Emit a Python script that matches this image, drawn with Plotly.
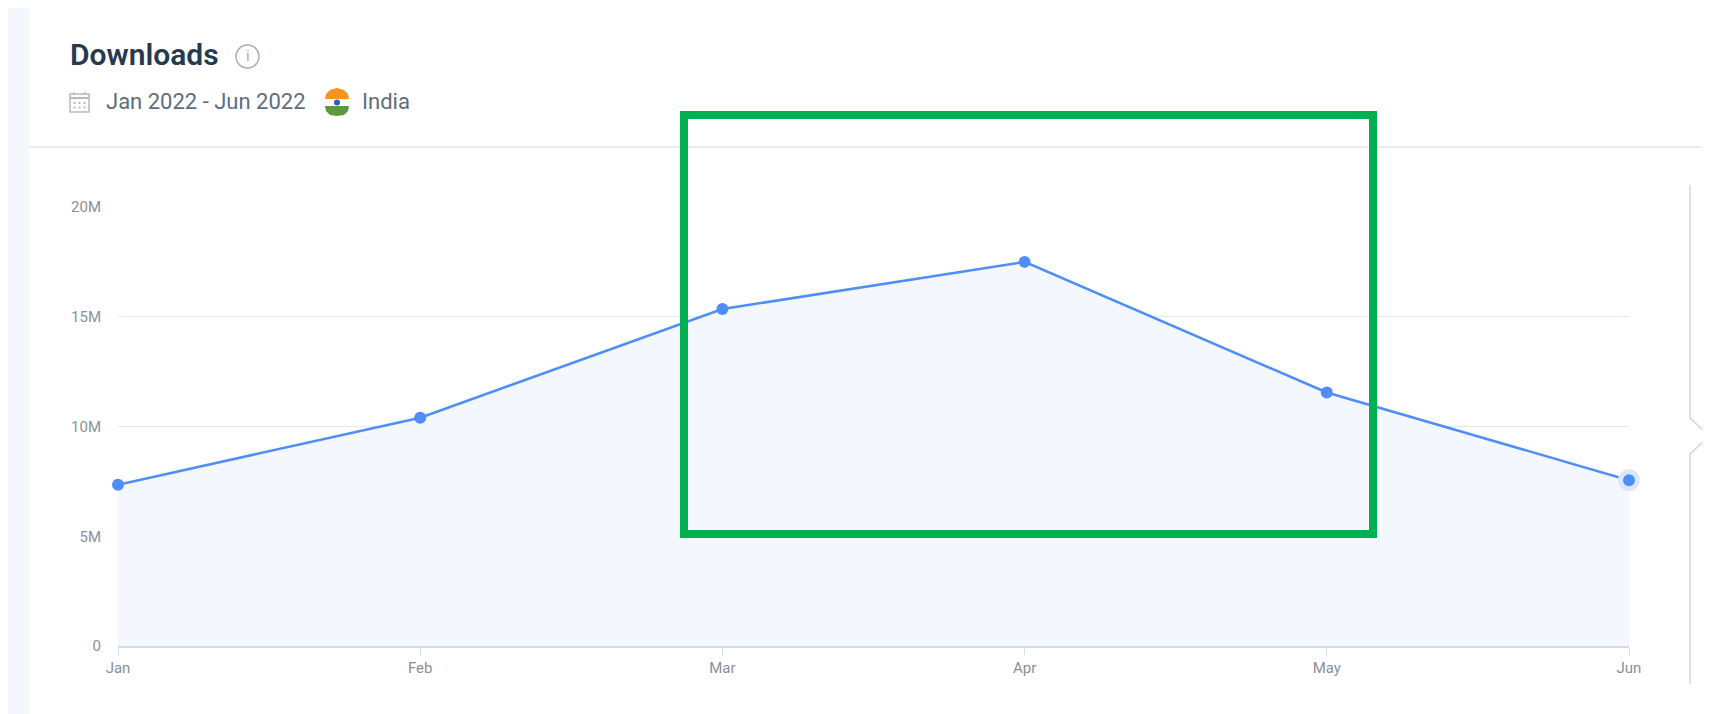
import plotly.graph_objects as go

months = ["Jan", "Feb", "Mar", "Apr", "May", "Jun"]
downloads = [7.35e6, 10.4e6, 15.35e6, 17.5e6, 11.55e6, 7.55e6]
y_ticks = [0, 5e6, 10e6, 15e6, 20e6]
y_tick_labels = ["0", "5M", "10M", "15M", "20M"]

W, H = 1710, 714
L, R, T, B = 110, 1621, 199, 638  # plot area in page pixels


def px_shape(kind, x0, y0, x1, y1, **kw):
    # shape given in page pixels, anchored to paper origin
    return dict(type=kind, xref="paper", yref="paper", xsizemode="pixel", ysizemode="pixel",
                xanchor=0, yanchor=0, x0=x0 - L, x1=x1 - L, y0=B - y0, y1=B - y1, **kw)


def px_path(points, **kw):
    d = "M" + " L".join(f"{x - L},{B - y}" for x, y in points)
    return dict(type="path", xref="paper", yref="paper", xsizemode="pixel", ysizemode="pixel",
                xanchor=0, yanchor=0, path=d, **kw)


def paper(x, y):
    return (x - L) / (R - L), (B - y) / (B - T)


fig = go.Figure()
fig.add_trace(go.Scatter(x=months, y=downloads, mode="lines+markers", fill="tozeroy",
                         fillcolor="#f4f7fe", line=dict(color="#4f8ef7", width=2.5),
                         marker=dict(size=12, color="#4f8ef7"), cliponaxis=False,
                         hoverinfo="skip", showlegend=False))
fig.add_trace(go.Scatter(x=months[-1:], y=downloads[-1:], mode="markers",
                         marker=dict(size=17, color="#4f8ef7", line=dict(color="#dbe8fc", width=5)),
                         cliponaxis=False, hoverinfo="skip", showlegend=False))

ic = "#b4bac4"
shapes = [
    # left strip and header separator
    px_shape("rect", 0, 0, 21, H, fillcolor="#f4f7fc", line_width=0, layer="below"),
    px_shape("line", 21, 139, W, 139, line=dict(color="#e3e6ed", width=1.5)),
    # right side panel line with chevron
    px_path([(1682, 177), (1682, 410), (1701, 428), (1682, 446), (1682, 676)],
            line=dict(color="#c9ced6", width=1.2)),
    # info icon
    px_shape("circle", 228, 37, 251, 60, line=dict(color="#a8adb5", width=1.5)),
    # calendar icon
    px_shape("rect", 62, 86, 81, 104, line=dict(color=ic, width=1.5)),
    px_shape("line", 62, 90, 81, 90, line=dict(color=ic, width=2)),
    px_shape("line", 66, 84, 66, 87, line=dict(color=ic, width=1.5)),
    px_shape("line", 77, 84, 77, 87, line=dict(color=ic, width=1.5)),
]
for cx in (66.5, 71.5, 76.5):
    for cy in (95, 99.5):
        shapes.append(px_shape("rect", cx - 1, cy - 1, cx + 1, cy + 1, fillcolor=ic, line_width=0))
shapes += [
    # India flag
    px_path([(317, 91), (341, 91), (340, 86), (336, 82), (329, 80), (322, 82), (318, 86), (317, 91)],
            fillcolor="#f7931e", line_width=0),
    px_path([(317, 98), (341, 98), (340, 103), (336, 107), (329, 108), (322, 107), (318, 103), (317, 98)],
            fillcolor="#5a9a3a", line_width=0),
    px_shape("circle", 326, 91.5, 332, 97.5, fillcolor="#2a5cc7", line_width=0),
    # green highlight rectangle
    px_shape("rect", 676, 107, 1365, 526, line=dict(color="#00b050", width=8)),
]

annotations = []
for text, x, y, size, color, weight in [
    ("Downloads", 60, 47, 30, "#25394f", 600),
    ("i", 239.5, 48.5, 15, "#a8adb5", 400),
    ("Jan 2022 - Jun 2022", 96, 93, 22, "#5d6d80", 400),
    ("India", 352, 93, 22, "#5d6d80", 400),
]:
    ax, ay = paper(x, y)
    annotations.append(dict(text=text, x=ax, y=ay, xref="paper", yref="paper", showarrow=False,
                            xanchor="center" if text == "i" else "left", yanchor="middle",
                            font=dict(size=size, color=color, family="Roboto", weight=weight)))

fig.update_layout(
    width=W, height=H, margin=dict(l=L, r=W - R, t=T, b=H - B),
    plot_bgcolor="white", paper_bgcolor="white",
    font=dict(family="Roboto", color="#8a9099", size=15),
    shapes=shapes, annotations=annotations,
    xaxis=dict(range=[0, 5], showgrid=False, showline=True, linecolor="#d5dbe6", linewidth=1.5,
               ticks="outside", tickcolor="#d5dbe6", ticklen=7, zeroline=False, fixedrange=True),
    yaxis=dict(range=[0, 20e6], tickvals=y_ticks, ticktext=y_tick_labels, gridcolor="#e3e7ee",
               zeroline=False, showline=False, ticks="", ticklabelstandoff=16, fixedrange=True),
)

fig.write_html("out.html")
